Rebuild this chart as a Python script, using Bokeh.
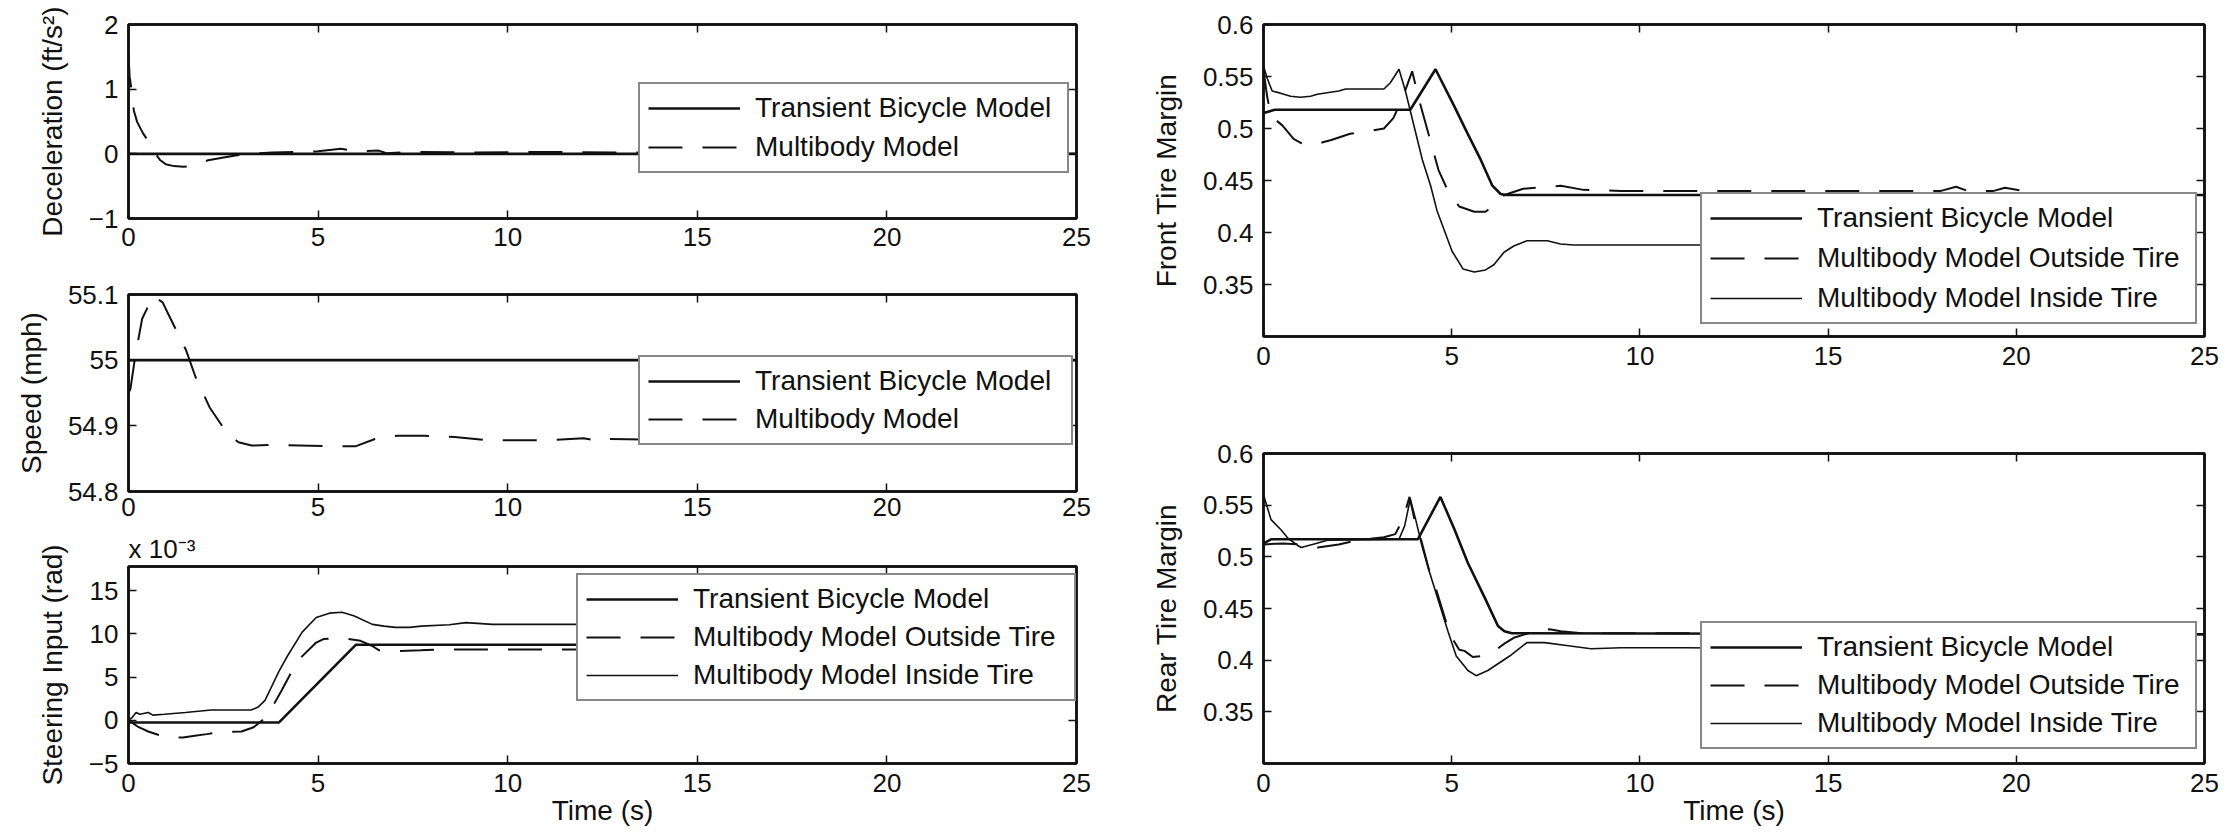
from bokeh.plotting import figure
from bokeh.models import LinearAxis, FixedTicker, Legend, LegendItem
from bokeh.layouts import row, column
from bokeh.embed import file_html
from bokeh.resources import INLINE

# ---------------- data ----------------
X_TICKS = [0, 5, 10, 15, 20, 25]

# Deceleration (ft/s^2)
decel_t_tr = [0, 25]
decel_tr = [0, 0]
decel_t_mb = [0, 0.03, 0.08, 0.14, 0.23, 0.38, 0.54, 0.67, 0.84, 0.98, 1.2, 1.45, 1.64, 1.85, 2.1,
              2.47, 2.78, 3.17, 3.8, 4.5, 5.0, 5.6, 6.0, 6.6, 6.8, 7.5, 9.0, 11.0, 13.5, 17.0, 20.0]
decel_mb = [1.55, 1.19, 0.99, 0.67, 0.49, 0.32, 0.18, 0.03, -0.10, -0.16, -0.19, -0.2, -0.19, -0.15, -0.1,
            -0.06, -0.03, 0.0, 0.02, 0.03, 0.04, 0.08, 0.04, 0.05, 0.01, 0.03, 0.02, 0.03, 0.02, 0.02, 0.02]
DECEL_TICKS = [-1, 0, 1, 2]

# Speed (mph)
speed_t_tr = [0, 25]
speed_tr = [55.0, 55.0]
speed_t_mb = [0, 0.05, 0.18, 0.36, 0.65, 0.9, 1.11, 1.52, 1.77, 2.14, 2.61, 2.9, 3.25, 3.8, 4.5, 5.2,
              6.0, 6.5, 7.1, 7.8, 8.6, 9.5, 10.4, 11.0, 12.0, 12.5, 12.7, 14, 16, 18, 20]
speed_mb = [54.95, 54.956, 55.007, 55.063, 55.098, 55.088, 55.063, 55.015, 54.974, 54.928, 54.888, 54.875,
            54.870, 54.871, 54.870, 54.869, 54.869, 54.880, 54.885, 54.885, 54.883, 54.878, 54.878, 54.878,
            54.881, 54.876, 54.880, 54.879, 54.879, 54.879, 54.879]
SPEED_TICKS = [54.8, 54.9, 55.0, 55.1]
SPEED_LABELS = ["54.8", "54.9", "55", "55.1"]

# Steering input (x 10^-3 rad)
steer_t_tr = [0, 3.97, 6.0, 25]
steer_tr = [-0.25, -0.25, 8.75, 8.75]
steer_t_out = [0, 0.27, 0.52, 0.8, 1.13, 1.44, 1.75, 2.06, 2.36, 2.98, 3.3, 3.53, 3.66, 4.03, 4.46, 4.95,
               5.14, 5.5, 5.8, 6.12, 6.43, 6.61, 7.1, 7.7, 8.15, 8.9, 9.6, 10.6, 11.4, 13, 15, 17.5, 20]
steer_out = [0, -0.8, -1.3, -1.7, -2.0, -2.0, -1.8, -1.6, -1.4, -1.3, -0.8, 0.0, 0.5, 3.4, 6.9, 9.0,
             9.4, 9.5, 9.4, 9.2, 8.6, 8.1, 8.0, 8.1, 8.2, 8.2, 8.2, 8.2, 8.2, 8.2, 8.2, 8.2, 8.2]
steer_t_in = [0, 0.09, 0.2, 0.3, 0.52, 0.64, 0.95, 1.5, 2.18, 3.23, 3.41, 3.6, 3.97, 4.2, 4.58, 4.95,
              5.3, 5.63, 5.94, 6.43, 6.74, 7.04, 7.41, 7.72, 8.46, 8.9, 9.6, 11.35, 13, 15, 17.5, 20]
steer_in = [0, 0.3, 0.9, 0.7, 0.9, 0.6, 0.7, 0.9, 1.2, 1.2, 1.5, 2.3, 5.7, 7.5, 10.2, 11.9,
            12.4, 12.5, 12.1, 11.1, 10.9, 10.75, 10.75, 10.9, 11.06, 11.3, 11.1, 11.1, 11.1, 11.1, 11.1, 11.1]
STEER_TICKS = [-5, 0, 5, 10, 15]
STEER_SCALE = "x 10⁻³"

# Front tire margin
front_t_tr = [0, 0.3, 3.9, 4.57, 5.06, 5.41, 5.77, 6.08, 6.3, 6.45, 25]
front_tr = [0.515, 0.518, 0.518, 0.557, 0.522, 0.496, 0.470, 0.445, 0.437, 0.436, 0.436]
front_t_out = [0, 0.1, 0.2, 0.5, 0.8, 1.0, 1.3, 1.6, 1.8, 2.3, 2.7, 3.2, 3.45, 3.7, 3.95, 4.13, 4.39,
               4.65, 4.9, 5.2, 5.6, 5.9, 6.17, 6.4, 6.9, 7.9, 8.5, 9.5, 12, 15, 18, 18.4, 18.7, 19.4,
               19.7, 20.2]
front_out = [0.556, 0.53, 0.512, 0.503, 0.49, 0.486, 0.484, 0.487, 0.489, 0.495, 0.497, 0.5, 0.51, 0.53,
             0.555, 0.528, 0.494, 0.46, 0.44, 0.425, 0.42, 0.42, 0.428, 0.436, 0.442, 0.445, 0.441, 0.440,
             0.440, 0.440, 0.440, 0.444, 0.440, 0.440, 0.443, 0.440]
front_t_in = [0, 0.1, 0.23, 0.45, 0.72, 0.98, 1.25, 1.43, 2.0, 2.18, 3.2, 3.37, 3.6, 3.77, 4.22, 4.44,
              4.61, 5.01, 5.3, 5.6, 5.9, 6.12, 6.39, 6.65, 7.0, 7.54, 7.89, 8.25, 12, 16, 20.2]
front_in = [0.560, 0.548, 0.536, 0.534, 0.531, 0.530, 0.531, 0.533, 0.536, 0.538, 0.538, 0.544, 0.557,
            0.536, 0.470, 0.445, 0.421, 0.382, 0.365, 0.362, 0.364, 0.369, 0.381, 0.387, 0.392, 0.392,
            0.389, 0.388, 0.388, 0.388, 0.388]

# Rear tire margin
rear_t_tr = [0, 0.2, 4.1, 4.7, 5.08, 5.43, 5.87, 6.23, 6.4, 6.6, 25]
rear_tr = [0.513, 0.517, 0.517, 0.558, 0.526, 0.494, 0.461, 0.433, 0.428, 0.426, 0.425]
rear_t_out = [0, 0.5, 1.0, 1.44, 2.0, 2.5, 3.2, 3.5, 3.7, 3.88, 4.05, 4.19, 4.4, 4.6, 4.95, 5.2, 5.34,
              5.56, 5.85, 6.14, 6.4, 6.67, 6.94, 7.3, 7.6, 7.9, 8.5, 12, 16, 20.2]
rear_out = [0.512, 0.513, 0.512, 0.509, 0.512, 0.516, 0.519, 0.522, 0.536, 0.558, 0.53, 0.516, 0.487,
            0.467, 0.425, 0.41, 0.409, 0.403, 0.404, 0.409, 0.416, 0.422, 0.425, 0.428, 0.43, 0.428,
            0.426, 0.426, 0.426, 0.426]
rear_t_in = [0, 0.2, 0.47, 0.65, 0.91, 1.0, 1.3, 1.7, 3.6, 3.75, 3.9, 4.05, 4.2, 4.37, 4.54, 4.9, 5.12,
             5.43, 5.65, 5.96, 6.54, 7.0, 7.47, 8.1, 8.7, 9.5, 11.2, 15, 20.2]
rear_in = [0.56, 0.536, 0.526, 0.518, 0.511, 0.509, 0.512, 0.516, 0.517, 0.53, 0.556, 0.535, 0.512, 0.49,
           0.47, 0.428, 0.404, 0.39, 0.385, 0.39, 0.404, 0.417, 0.417, 0.414, 0.411, 0.412, 0.412, 0.411,
           0.411]
MARGIN_TICKS = [0.35, 0.4, 0.45, 0.5, 0.55, 0.6]
MARGIN_LABELS = ["0.35", "0.4", "0.45", "0.5", "0.55", "0.6"]

LBL_TR = "Transient Bicycle Model"
LBL_MB = "Multibody Model"
LBL_OUT = "Multibody Model Outside Tire"
LBL_IN = "Multibody Model Inside Tire"

# ---------------- styling ----------------
FONT = "Liberation Sans"
INK = "#111111"
TICK_SIZE = "26px"
LABEL_SIZE = "28px"
DASH = "34 20"
W_TR, W_DASH, W_IN = 2.6, 2.0, 1.6


def style_axis(ax, ticks, labels=None, show=True, standoff=9):
    ax.ticker = FixedTicker(ticks=ticks)
    ax.major_tick_in = 8
    ax.major_tick_out = 0
    ax.minor_tick_in = 0
    ax.minor_tick_out = 0
    ax.major_tick_line_color = INK
    ax.major_tick_line_width = 1.5
    ax.axis_line_color = INK
    ax.axis_line_width = 2.5
    ax.major_label_text_font = FONT
    if labels is not None:
        ax.major_label_overrides = dict(zip(ticks, labels))
    if show:
        ax.major_label_text_color = INK
        ax.major_label_text_font_size = TICK_SIZE
        ax.major_label_standoff = standoff
    else:
        # mirrored tick marks only (MATLAB "box on" style), no labels
        ax.major_label_text_color = None
        ax.major_label_text_font_size = "0px"
        ax.major_label_standoff = 0
    ax.axis_label_text_font = FONT
    ax.axis_label_text_font_size = LABEL_SIZE
    ax.axis_label_text_font_style = "normal"
    ax.axis_label_text_color = INK


def make_fig(w, h, yr, yticks, ylabels, ylabel, xlabel, bl, br, bt, bb, xstand=9):
    p = figure(width=w, height=h, x_range=(0, 25), y_range=yr, output_backend="svg",
               toolbar_location=None, min_border_left=bl, min_border_right=br,
               min_border_top=bt, min_border_bottom=bb)
    p.grid.visible = False
    p.outline_line_color = INK
    p.outline_line_width = 2.5
    p.background_fill_color = "white"
    p.border_fill_color = "white"
    style_axis(p.xaxis[0], X_TICKS, standoff=xstand)
    style_axis(p.yaxis[0], yticks, ylabels, standoff=10)
    p.yaxis[0].axis_label = ylabel
    p.yaxis[0].axis_label_standoff = 18
    if xlabel:
        p.xaxis[0].axis_label = xlabel
        p.xaxis[0].axis_label_standoff = 0
    top = LinearAxis()
    style_axis(top, X_TICKS, show=False)
    p.add_layout(top, "above")
    right = LinearAxis()
    style_axis(right, yticks, show=False)
    p.add_layout(right, "right")
    return p


def add_legend(p, items, loc, label_width, spacing):
    leg = Legend(items=items, location=loc)
    leg.label_text_font = FONT
    leg.label_text_font_size = LABEL_SIZE
    leg.label_text_color = INK
    leg.border_line_color = INK
    leg.border_line_width = 2.5
    leg.background_fill_color = "white"
    leg.background_fill_alpha = 1.0
    leg.padding = 8
    leg.margin = 0
    leg.spacing = spacing
    leg.glyph_width = 92
    leg.glyph_height = 28
    leg.label_height = 28
    leg.label_width = label_width
    leg.label_standoff = 15
    p.add_layout(leg)


WL, WR = 1096, 1129

# ---- deceleration ----
p1 = make_fig(WL, 270, (-1, 2), DECEL_TICKS, None, "Deceleration (ft/s²)", None, 128, 20, 24, 52)
r1a = p1.line(decel_t_tr, decel_tr, line_color=INK, line_width=W_TR)
r1b = p1.line(decel_t_mb, decel_mb, line_color=INK, line_width=W_DASH, line_dash=DASH)
add_legend(p1, [LegendItem(label=LBL_TR, renderers=[r1a]), LegendItem(label=LBL_MB, renderers=[r1b])],
           (510, 45), 304, 7)

# ---- speed ----
p2 = make_fig(WL, 259, (54.8, 55.1), SPEED_TICKS, SPEED_LABELS, "Speed (mph)", None, 128, 20, 24, 38,
              xstand=6)
r2a = p2.line(speed_t_tr, speed_tr, line_color=INK, line_width=W_TR)
r2b = p2.line(speed_t_mb, speed_mb, line_color=INK, line_width=W_DASH, line_dash=DASH)
add_legend(p2, [LegendItem(label=LBL_TR, renderers=[r2a]), LegendItem(label=LBL_MB, renderers=[r2b])],
           (510, 46), 308, 6)

# ---- steering ----
p3 = make_fig(WL, 305, (-5, 17.8), STEER_TICKS, None, "Steering Input (rad)", "Time (s)", 128, 20, 37, 71,
              xstand=10)
p3.title.text = STEER_SCALE
p3.title.align = "left"
p3.title.text_font = FONT
p3.title.text_font_size = "26px"
p3.title.text_font_style = "normal"
p3.title.text_color = INK
p3.title.standoff = 5
r3a = p3.line(steer_t_tr, steer_tr, line_color=INK, line_width=W_TR)
r3b = p3.line(steer_t_out, steer_out, line_color=INK, line_width=W_DASH, line_dash=DASH)
r3c = p3.line(steer_t_in, steer_in, line_color=INK, line_width=W_IN)
add_legend(p3, [LegendItem(label=LBL_TR, renderers=[r3a]), LegendItem(label=LBL_OUT, renderers=[r3b]),
                LegendItem(label=LBL_IN, renderers=[r3c])], (448, 62), 373, 6)

# ---- front tire ----
p4 = make_fig(WR, 430, (0.3, 0.6), MARGIN_TICKS, MARGIN_LABELS, "Front Tire Margin", None, 167, 21, 24, 94,
              xstand=10)
r4a = p4.line(front_t_tr, front_tr, line_color=INK, line_width=W_TR)
r4b = p4.line(front_t_out, front_out, line_color=INK, line_width=W_DASH, line_dash=DASH)
r4c = p4.line(front_t_in, front_in, line_color=INK, line_width=W_IN)
add_legend(p4, [LegendItem(label=LBL_TR, renderers=[r4a]), LegendItem(label=LBL_OUT, renderers=[r4b]),
                LegendItem(label=LBL_IN, renderers=[r4c])], (437, 12), 370, 8)

# ---- rear tire ----
p5 = make_fig(WR, 404, (0.3, 0.6), MARGIN_TICKS, MARGIN_LABELS, "Rear Tire Margin", "Time (s)", 167, 21, 23, 71,
              xstand=10)
r5a = p5.line(rear_t_tr, rear_tr, line_color=INK, line_width=W_TR)
r5b = p5.line(rear_t_out, rear_out, line_color=INK, line_width=W_DASH, line_dash=DASH)
r5c = p5.line(rear_t_in, rear_in, line_color=INK, line_width=W_IN)
add_legend(p5, [LegendItem(label=LBL_TR, renderers=[r5a]), LegendItem(label=LBL_OUT, renderers=[r5b]),
                LegendItem(label=LBL_IN, renderers=[r5c])], (437, 14), 370, 6)

layout = row(column(p1, p2, p3), column(p4, p5))

with open("out.html", "w") as f:
    f.write(file_html(layout, INLINE))
